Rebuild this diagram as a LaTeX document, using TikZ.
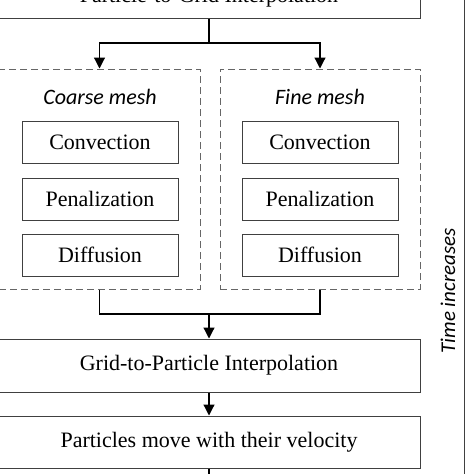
\documentclass[tikz,border=0pt]{standalone}
\usepackage{fontspec}
\setmainfont{Liberation Serif}
\newfontfamily\labelfont{Carlito}
\usepackage{tikz}
\usetikzlibrary{positioning,calc,arrows.meta}
\colorlet{boxGray}{black!75}
\colorlet{dashGray}{black!60}
\tikzset{
  stage/.style={draw=boxGray, line width=1pt, minimum width=422pt, align=center,
    font=\fontsize{22}{26}\selectfont},
  substep/.style={draw=boxGray, line width=1pt, minimum width=156pt, minimum height=42pt,
    font=\fontsize{22}{26}\selectfont},
  meshbox/.style={draw=dashGray, line width=1pt, dash pattern=on 7pt off 4pt,
    minimum height=220pt},
  meshtitle/.style={font=\labelfont\itshape\fontsize{22}{26}\selectfont},
  flow/.style={line width=1.2pt, -{Triangle[width=11pt,length=11pt]}},
  wire/.style={line width=1.2pt}
}

\begin{document}
\begin{tikzpicture}[x=1pt, y=-1pt]
        \useasboundingbox (0,0) rectangle (474,474);
        \clip (0,0) rectangle (474,474);
        % stages
        \node[stage, minimum height=42pt] (p2g) at (209,-3) {Particle-to-Grid Interpolation};
        \node[stage, minimum height=53pt] (g2p) at (209,365.5) {Grid-to-Particle Interpolation};
        \node[stage, minimum height=52pt] (move) at (209,442) {Particles move with their velocity};
        % the two meshes
        \node[meshbox, minimum width=201pt] (coarse) at (99.5,179) {};
        \node[meshbox, minimum width=200pt] (fine) at (320,179) {};
        \node[meshtitle] at (100,97) {Coarse mesh};
        \node[meshtitle] at (320,97) {Fine mesh};
        \node[substep] (convC) at (100,142) {Convection};
        \node[substep] (penC) at (100,199) {Penalization};
        \node[substep] (difC) at (100,255) {Diffusion};
        \node[substep] (convF) at (320,142) {Convection};
        \node[substep] (penF) at (320,199) {Penalization};
        \node[substep] (difF) at (320,255) {Diffusion};
        % connectors
        \coordinate (split) at (209,43);
        \coordinate (join) at (209,314);
        \coordinate (next) at (209,480);
        \draw[wire] (p2g.south) -- (split);
        \draw[flow] (split) -| (coarse.north);
        \draw[flow] (split) -| (fine.north);
        \draw[wire] (coarse.south) |- (join);
        \draw[wire] (fine.south) |- (join);
        \draw[flow] (join) -- (g2p.north);
        \draw[flow] (g2p.south) -- (move.north);
        \draw[wire] (move.south) -- (next);
        % time axis
        \coordinate (tTop) at (464,-10);
        \coordinate (tBot) at (464,484);
        \draw[draw=boxGray, line width=1pt] (tTop) -- (tBot);
        \node[meshtitle, font=\labelfont\itshape\fontsize{21}{25}\selectfont, rotate=90] (time) at (448,291) {Time increases};
\end{tikzpicture}
\end{document}
